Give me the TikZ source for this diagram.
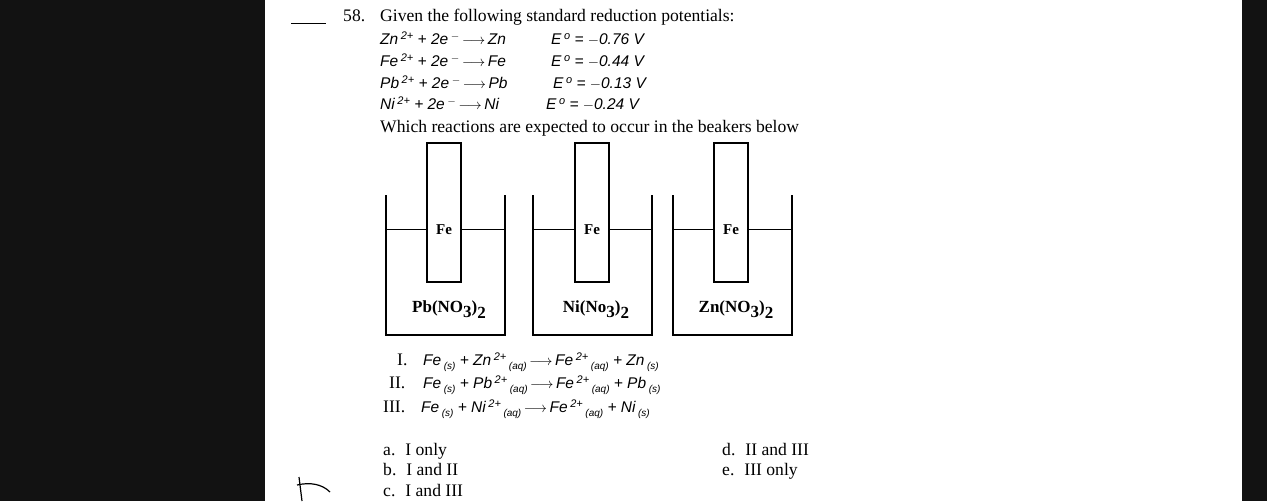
\documentclass[tikz,border=0pt]{standalone}
\usepackage{fontspec}
\setmainfont{Liberation Serif}
\setsansfont{Liberation Sans}
\begin{document}
\begin{tikzpicture}[x=1pt,y=-1pt,
  tx/.style={anchor=base west,inner sep=0pt,font=\fontsize{17.6}{17.6}\selectfont},
  eq/.style={anchor=base west,inner sep=0pt,font=\fontsize{15.5}{15.5}\sffamily\itshape},
  wall/.style={line width=1.6pt},
  lab/.style={inner sep=0pt,font=\fontsize{15}{15}\bfseries}]
\fill[black!93] (0,0) rectangle (1267,501);
\fill[white] (265,0) rectangle (1242,501);
\useasboundingbox (0,0) rectangle (1267,501);
\coordinate (bl1) at (291,23); \coordinate (bl2) at (326,23);
\draw (bl1) -- (bl2);
\node[tx] (num) at (343,21) {58.};
\node[tx] (q) at (380,21) {Given the following standard reduction potentials:};
\newcommand{\up}[1]{\,\raisebox{5pt}{\fontsize{11}{11}\selectfont #1}}
\newcommand{\dn}[1]{\,\raisebox{-4pt}{\fontsize{10}{10}\selectfont #1}}
\newcommand{\ar}{\,$\longrightarrow$\,}
\node[eq] (r1) at (380,44) {Zn\up{2+} + 2e\up{$-$}\ar Zn};
\node[eq] (r2) at (380,66) {Fe\up{2+} + 2e\up{$-$}\ar Fe};
\node[eq] (r3) at (380,88) {Pb\up{2+} + 2e\up{$-$}\ar Pb};
\node[eq] (r4) at (380,109) {Ni\up{2+} + 2e\up{$-$}\ar Ni};
\node[eq] (e1) at (551,44) {E\up{o} = $-$0.76 V};
\node[eq] (e2) at (551,66) {E\up{o} = $-$0.44 V};
\node[eq] (e3) at (553,88) {E\up{o} = $-$0.13 V};
\node[eq] (e4) at (546,109) {E\up{o} = $-$0.24 V};
\node[tx] (wh) at (380,132) {Which reactions are expected to occur in the beakers below};
% beakers
\foreach \bx/\ex/\sol/\nm in {386/427/{Pb(NO\raisebox{-5pt}{3})\raisebox{-6pt}{2}}/a, 533/575/{Ni(No\raisebox{-5pt}{3})\raisebox{-6pt}{2}}/b, 673/714/{Zn(NO\raisebox{-5pt}{3})\raisebox{-6pt}{2}}/c}{
  \draw[wall] (\bx,195) -- (\bx,335) -- (\bx+119,335) -- (\bx+119,195);
  \draw[line width=0.7pt] (\bx,229) -- (\ex,229);
  \draw[line width=0.7pt] (\ex+34,229) -- (\bx+119,229);
  \draw[wall] (\ex,143) rectangle (\ex+34,282);
  \node[lab] (fe\nm) at (\ex+17,230) {Fe};
  \node[lab,font=\fontsize{17}{17}\bfseries] (s\nm) at (\bx+63,310) {\sol};
}
\newcommand{\sub}[1]{\dn{(#1)}}
\newcommand{\ch}[2]{#1\up{2+}\dn{(#2)}}
\node[tx] (I) at (397,365) {I.};
\node[eq] (rI) at (423,365) {Fe\sub{s} + \ch{Zn}{aq}\ar\ch{Fe}{aq} + Zn\sub{s}};
\node[tx] (II) at (389,388) {II.};
\node[eq] (rII) at (423,388) {Fe\sub{s} + \ch{Pb}{aq}\ar\ch{Fe}{aq} + Pb\sub{s}};
\node[tx] (III) at (383,412) {III.};
\node[eq] (rIII) at (421,412) {Fe\sub{s} + \ch{Ni}{aq}\ar\ch{Fe}{aq} + Ni\sub{s}};
\node[tx] (a) at (383,455) {a.\hspace{10pt}I only};
\node[tx] (b) at (383,475) {b.\hspace{10pt}I and II};
\node[tx] (c) at (383,496) {c.\hspace{10pt}I and III};
\node[tx] (d) at (722,455) {d.\hspace{10pt}II and III};
\node[tx] (e) at (722,475) {e.\hspace{10pt}III only};
\draw[line width=1.2pt] (299,477) -- (302,501);
\draw[line width=1.2pt] (297,485) .. controls (310,482) and (322,484) .. (330,492);
\end{tikzpicture}
\end{document}
